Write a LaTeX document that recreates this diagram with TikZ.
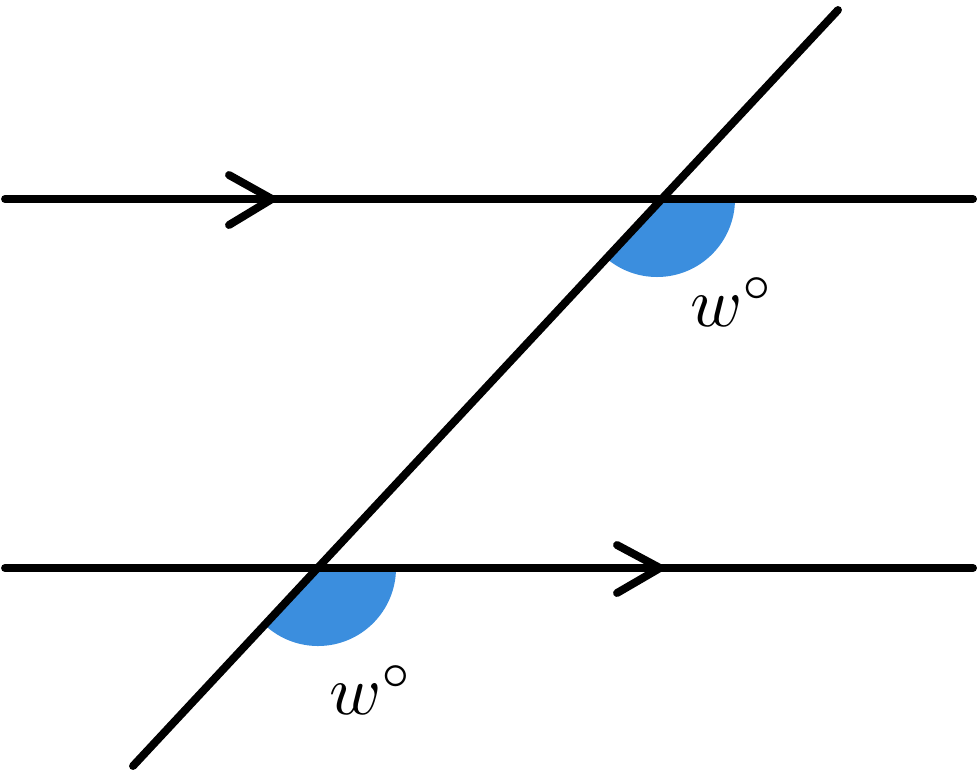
\documentclass[tikz,border=0pt]{standalone}
\begin{document}
\begin{tikzpicture}[x=0.02cm,y=-0.02cm,
  ln/.style={line width=4.5pt,line cap=round,line join=round},
  lab/.style={scale=4}]
\definecolor{angblue}{HTML}{3B8EDE}
\useasboundingbox (0,0) rectangle (979,775);
\coordinate (P) at (657,199);
\coordinate (Q) at (318,568);
\fill[angblue] (P) -- ++(0:78) arc[start angle=0,end angle=132.5,radius=78] -- cycle;
\fill[angblue] (Q) -- ++(0:78) arc[start angle=0,end angle=132.5,radius=78] -- cycle;
\coordinate (T1) at (5,199); \coordinate (T2) at (973,199);
\coordinate (B1) at (5,568); \coordinate (B2) at (973,568);
\coordinate (S1) at (133,766); \coordinate (S2) at (838,10);
\draw[ln] (T1) -- (T2);
\draw[ln] (B1) -- (B2);
\draw[ln] (S1) -- (S2);
\draw[ln] (229,175) -- (272,199) -- (229,225);
\draw[ln] (617,545) -- (660,568) -- (617,593);
\node[lab] (w1) at (733,302) {$w^\circ$};
\node[lab] (w2) at (372,690) {$w^\circ$};
\end{tikzpicture}
\end{document}
